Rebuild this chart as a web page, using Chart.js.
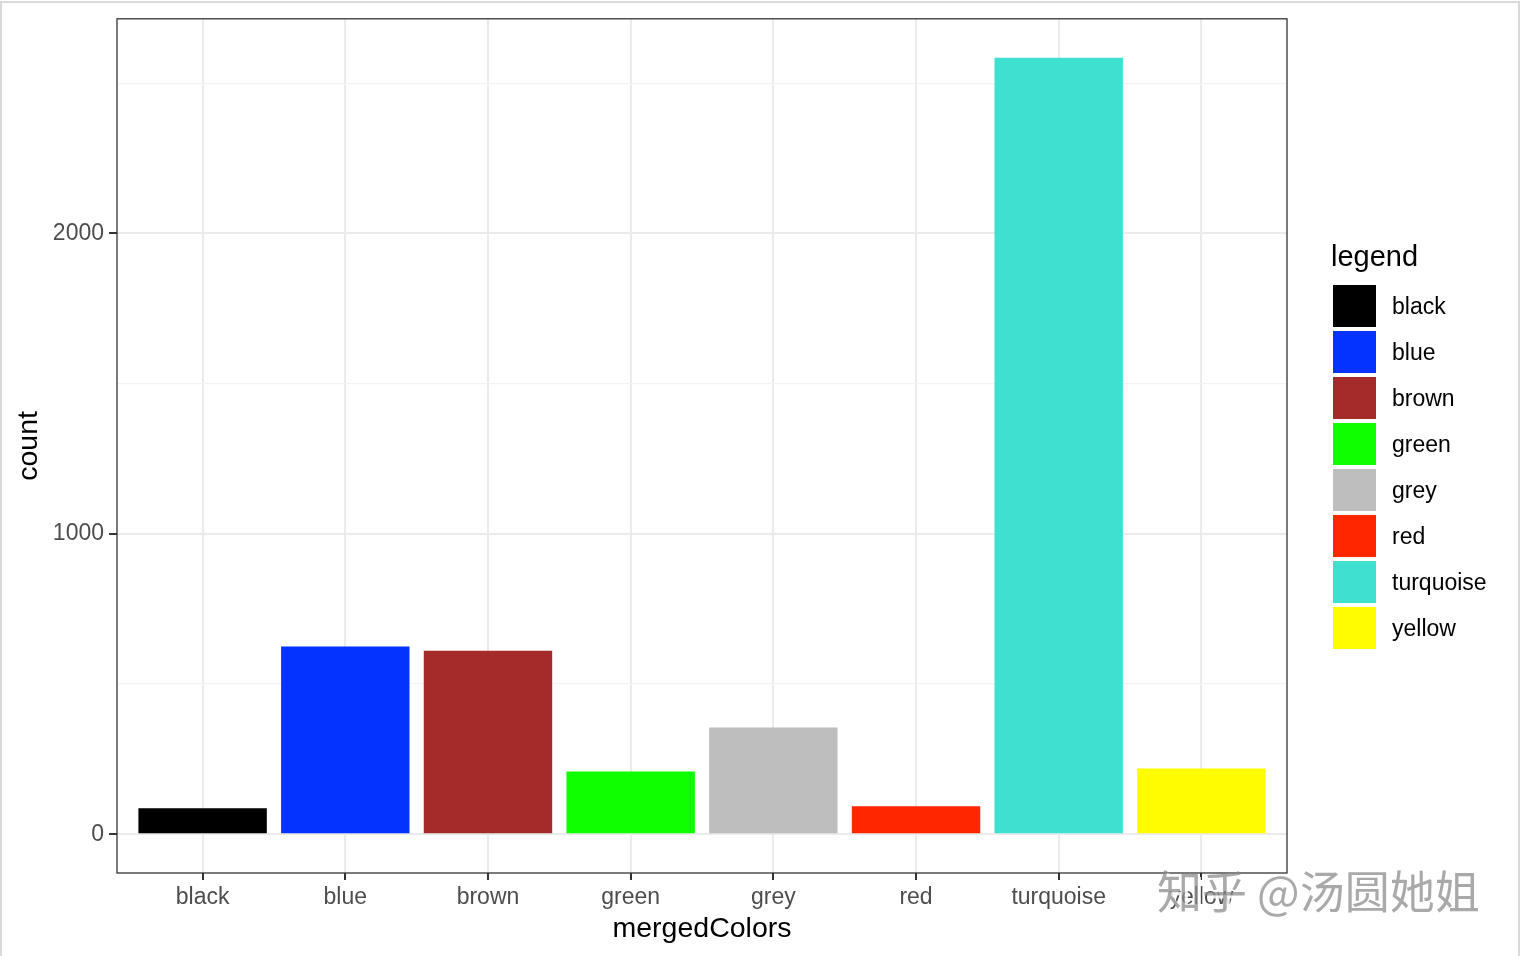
<!DOCTYPE html>
<html>
<head>
<meta charset="utf-8">
<script src="https://cdn.jsdelivr.net/npm/chart.js@4/dist/chart.umd.min.js"></script>
<style>
  html, body { margin: 0; padding: 0; background: #fff; }
  #chart { display: block; }
</style>
</head>
<body>
<canvas id="chart" width="1522" height="956"></canvas>
<script>
const categories = ['black', 'blue', 'brown', 'green', 'grey', 'red', 'turquoise', 'yellow'];
const counts = [86, 625, 611, 209, 355, 93, 2585, 219];
const barColors = ['#000000', '#0433FF', '#A52A2A', '#0FFF00', '#BEBEBE', '#FF2600', '#40E0D0', '#FFFB00'];
const yMajorTicks = [0, 1000, 2000];
const yMinorTicks = [500, 1500, 2500];

const FONT = '"Liberation Sans", Arial, Helvetica, sans-serif';
const maxCount = Math.max(...counts);

// legend + panel border + watermark, drawn after the chart
const extras = {
  id: 'extras',
  afterDraw(chart) {
    const c = chart.ctx;
    const a = chart.chartArea;
    c.save();
    // panel border
    c.strokeStyle = '#333333';
    c.lineWidth = 1.3;
    c.strokeRect(a.left, a.top, a.right - a.left, a.bottom - a.top);

    // legend
    c.fillStyle = '#000';
    c.font = '29px ' + FONT;
    c.textBaseline = 'alphabetic';
    c.textAlign = 'left';
    c.fillText('legend', 1331, 266);
    c.font = '23px ' + FONT;
    c.textBaseline = 'middle';
    categories.forEach((name, i) => {
      const y = 285 + i * 46;
      c.fillStyle = barColors[i];
      c.fillRect(1333, y, 43, 42);
      c.fillStyle = '#000';
      c.fillText(name, 1392, y + 23);
    });

    // watermark
    c.font = '45px "Noto Sans CJK SC", sans-serif';
    c.textBaseline = 'middle';
    c.fillStyle = 'rgba(255,255,255,0.85)';
    c.fillText('知乎 @汤圆她姐', 1160, 895);
    c.fillStyle = 'rgba(140,140,140,0.75)';
    c.fillText('知乎 @汤圆她姐', 1157, 892);

    // faint image frame
    c.strokeStyle = '#DADADA';
    c.lineWidth = 2;
    c.beginPath();
    c.moveTo(1, 956); c.lineTo(1, 2); c.lineTo(1519, 2); c.lineTo(1519, 956);
    c.stroke();
    c.restore();
  }
};

new Chart(document.getElementById('chart'), {
  type: 'bar',
  data: {
    datasets: [{
      label: 'count',
      data: counts.map((v, i) => ({ x: i + 1, y: v })),
      backgroundColor: barColors,
      borderWidth: 0,
      barPercentage: 0.9,
      categoryPercentage: 1.0
    }]
  },
  options: {
    responsive: false,
    animation: false,
    layout: { padding: { left: 0, top: 18, right: 235, bottom: 0 } },
    plugins: { legend: { display: false }, tooltip: { enabled: false } },
    scales: {
      x: {
        type: 'linear',
        min: 0.4,
        max: 8.6,
        offset: false,
        afterBuildTicks: s => { s.ticks = categories.map((_, i) => ({ value: i + 1 })); },
        afterFit: s => { s.height = 83; },
        ticks: {
          callback: v => categories[v - 1] || '',
          color: '#4D4D4D',
          font: { family: FONT, size: 23 },
          padding: 4,
          maxRotation: 0,
          autoSkip: false
        },
        grid: { offset: false, color: '#EBEBEB', lineWidth: 2, tickColor: '#333333', tickLength: 7, drawOnChartArea: true },
        border: { display: false },
        title: { display: true, text: 'mergedColors', color: '#000', font: { family: FONT, size: 28.5 }, padding: { top: 0, bottom: 10 } }
      },
      y: {
        min: -maxCount * 0.05,
        max: maxCount * 1.05,
        afterBuildTicks: s => {
          s.ticks = [...yMajorTicks, ...yMinorTicks].sort((p, q) => p - q).map(v => ({ value: v }));
        },
        afterFit: s => { s.width = 117; },
        ticks: {
          callback: v => yMajorTicks.includes(v) ? String(v) : '',
          color: '#4D4D4D',
          font: { family: FONT, size: 23 },
          padding: 5
        },
        grid: {
          color: c => yMajorTicks.includes(c.tick.value) ? '#EBEBEB' : '#F3F3F3',
          lineWidth: c => yMajorTicks.includes(c.tick.value) ? 2 : 1.2,
          tickColor: c => yMajorTicks.includes(c.tick.value) ? '#333333' : 'rgba(0,0,0,0)',
          tickLength: 8
        },
        border: { display: false },
        title: { display: true, text: 'count', color: '#000', font: { family: FONT, size: 28.5 }, padding: { top: 12, bottom: 0 } }
      }
    }
  },
  plugins: [extras]
});
</script>
</body>
</html>
